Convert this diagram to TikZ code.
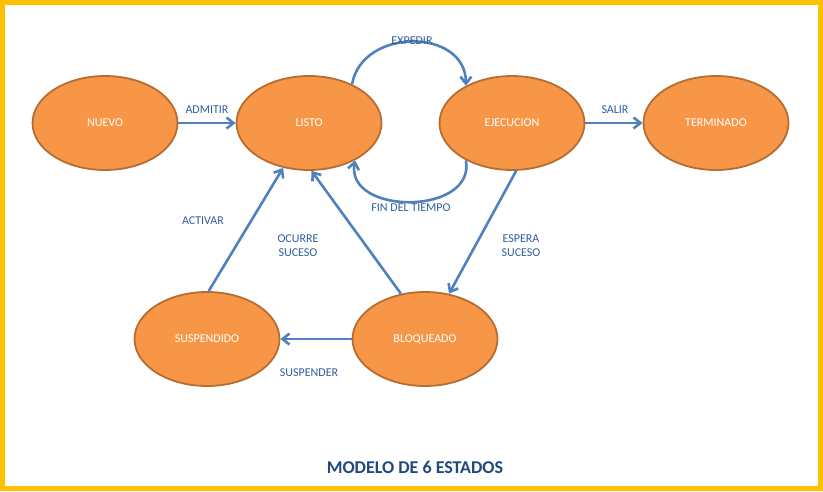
\documentclass[tikz,border=0pt]{standalone}
\usepackage{fontspec}
\setmainfont{Carlito}
\usetikzlibrary{arrows.meta,shapes.geometric}
\definecolor{nfill}{HTML}{F79646}
\definecolor{nline}{HTML}{B66D31}
\definecolor{arr}{HTML}{4F81BD}
\definecolor{lab}{HTML}{2F5E9A}
\definecolor{ttl}{HTML}{1F497D}
\definecolor{frame}{HTML}{FFC000}
\begin{document}
\begin{tikzpicture}[x=1pt,y=-1pt,
  st/.style={ellipse,fill=nfill,draw=nline,line width=1.8pt,minimum width=145pt,minimum height=94pt,text=white,font=\fontsize{12}{14}\selectfont},
  conn/.style={draw=arr,line width=2.6pt,-{Straight Barb[length=7pt,width=11pt]}},
  lbl/.style={text=lab,font=\fontsize{12}{14}\selectfont,align=center}]
\useasboundingbox (0,0) rectangle (823,491);
\draw[frame,line width=5pt] (2.5,2.5) rectangle (820.5,488.5);
\node[st] (nuevo) at (105,123) {NUEVO};
\node[st] (listo) at (309,123) {LISTO};
\node[st] (ejec) at (512,123) {EJECUCION};
\node[st] (term) at (716,123) {TERMINADO};
\node[st] (susp) at (207,339) {SUSPENDIDO};
\node[st] (bloq) at (425,339) {BLOQUEADO};
\draw[conn] (nuevo.east) -- (listo.west);
\draw[conn] (ejec.east) -- (term.west);
\draw[conn] (listo.42) to[out=80,in=90,looseness=1.3] (ejec.141);
\draw[conn] (ejec.219) to[out=-80,in=-100,looseness=1.3] (listo.-39);
\draw[conn] (ejec.-85) -- (bloq.62);
\draw[conn] (bloq.118) -- (listo.-87);
\draw[conn] (bloq.west) -- (susp.east);
\draw[conn] (susp.88) -- (listo.-120);
\node[lbl] (l1) at (207,110) {ADMITIR};
\node[lbl] (l2) at (412,41) {EXPEDIR};
\node[lbl] (l3) at (615,110) {SALIR};
\node[lbl] (l4) at (411,208) {FIN DEL TIEMPO};
\node[lbl] (l5) at (521,246) {ESPERA\\SUCESO};
\node[lbl] (l6) at (298,246) {OCURRE\\SUCESO};
\node[lbl] (l7) at (203,221) {ACTIVAR};
\node[lbl] (l8) at (309,373) {SUSPENDER};
\node[text=ttl,font=\fontsize{18}{20}\selectfont\bfseries] (title) at (415,467) {MODELO DE 6 ESTADOS};
\end{tikzpicture}
\end{document}
